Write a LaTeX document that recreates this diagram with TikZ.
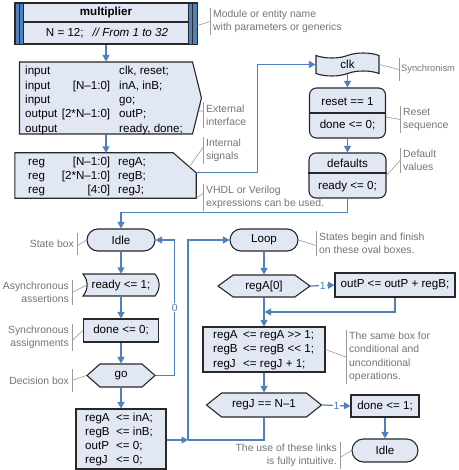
\documentclass[tikz,border=0pt]{standalone}
\usepackage{fontspec}
\setmainfont{Liberation Sans}
\usepackage{tikz}
\usetikzlibrary{arrows.meta,calc,positioning,shapes.symbols}
\definecolor{boxfill}{RGB}{226,231,244}
\definecolor{flowblue}{RGB}{79,129,189}
\definecolor{boxedge}{RGB}{40,40,40}
\definecolor{notegray}{RGB}{115,115,115}
\definecolor{annoline}{RGB}{155,155,155}
\newcommand{\flowfont}{\fontsize{11.6}{14.3}\selectfont}
\newcommand{\annofont}{\fontsize{10.4}{13.4}\selectfont}

\begin{document}
\begin{tikzpicture}[x=1pt,y=-1pt,font=\flowfont,
  box/.style={draw=boxedge,fill=boxfill,line width=1.1pt,inner sep=0pt},
  divider/.style={draw=boxedge,line width=1.1pt},
  bar/.style={draw=boxedge,fill=flowblue,line width=0.8pt},
  flow/.style={flowblue,line width=1.2pt,-{Triangle[width=7pt,length=6.5pt]}},
  link/.style={flowblue,line width=1.2pt},
  decision/.style={box,signal,signal from=nowhere,signal to=east and west},
  state/.style={box,rounded corners=11pt,minimum width=68pt,minimum height=22pt},
  code/.style={inner sep=0pt,align=left,anchor=west},
  note/.style={notegray,font=\annofont,inner xsep=3pt,inner ysep=2pt,minimum height=22pt},
  bracket/.style={annoline,line width=0.6pt},
  branch/.style={fill=white,inner sep=1pt,font=\annofont}]
  \useasboundingbox (0,0) rectangle (458,470);

  \node[box,minimum width=182pt,minimum height=41pt] (mult) at (106,23.5) {};
  \draw[bar] (15,3) rectangle (19.2,44);
  \draw[bar] (19.2,3) rectangle (23.4,44);
  \draw[bar] (188.6,3) rectangle (192.8,44);
  \draw[bar] (192.8,3) rectangle (197,44);
  \draw[divider] (23.4,22) -- (188.6,22);
  \node[font=\flowfont\bfseries] (multname) at (106,12.5) {multiplier};
  \node (multgen) at (107,33.5) {N = 12;\hspace{9pt}\textit{// From 1 to 32}};

  \node[box,signal,signal from=nowhere,signal to=east,signal pointer angle=152,
        minimum width=182pt,minimum height=72pt] (iface) at (106,98) {};
  \node[code] (ifacecode) at (25,100.5) {%
    \makebox[85pt][l]{input}\hspace{9pt}clk, reset;\\
    \makebox[85pt][l]{input\hfill[N–1:0]}\hspace{9pt}inA, inB;\\
    \makebox[85pt][l]{input}\hspace{9pt}go;\\
    \makebox[85pt][l]{output\hfill[2*N–1:0]}\hspace{9pt}outP;\\
    \makebox[85pt][l]{output}\hspace{9pt}ready, done;};

  \node[minimum width=181pt,minimum height=45pt,inner sep=0pt] (regs) at (105.5,175.5) {};
  \coordinate (regcutA) at ([xshift=-23pt]regs.north east);
  \coordinate (regcutB) at ([yshift=-20pt]regs.north east);
  \draw[box] (regs.north west) -- (regcutA) -- (regcutB) -- (regs.south east) -- (regs.south west) -- cycle;
  \node[code] (regscode) at (28,176.5) {%
    \makebox[82pt][l]{reg\hfill[N–1:0]}\hspace{8pt}regA;\\
    \makebox[82pt][l]{reg\hfill[2*N–1:0]}\hspace{8pt}regB;\\
    \makebox[82pt][l]{reg\hfill[4:0]}\hspace{8pt}regJ;};

  \node[box,tape,minimum width=63pt,minimum height=23pt] (clk) at (347.5,64.5) {clk};

  \node[box,rounded corners=7pt,minimum width=76pt,minimum height=50pt] (reset) at (347.5,113) {};
  \draw[divider] (reset.west) -- (reset.east);
  \node (resetif) at (347.5,102) {reset == 1};
  \node (resetdo) at (347.5,125) {done <= 0;};

  \node[box,rounded corners=7pt,minimum width=77pt,minimum height=45pt] (defaults) at (347.5,175.5) {};
  \draw[divider] (defaults.west |- 0,173) -- (defaults.east |- 0,173);
  \node (defname) at (347.5,163) {defaults};
  \node (defdo) at (347.5,186.5) {ready <= 0;};

  \node[state] (idle) at (121,240) {Idle};
  \node[state] (loop) at (264,240) {Loop};

  \draw[box] (83,274) -- (155,274) .. controls (160.5,281) and (160.5,289) .. (155,296)
    -- (83,296) .. controls (88.5,289) and (88.5,281) .. (83,274) -- cycle;
  \node[inner sep=0pt,minimum width=68pt,minimum height=22pt] (ready) at (121,285) {ready <= 1;};
  \node[box,minimum width=75pt,minimum height=23pt] (done0) at (121,330.5) {done <= 0;};
  \node[decision,signal pointer angle=83,minimum width=68pt,minimum height=23pt] (go) at (121,375.5) {go};
  \node[box,minimum width=90pt,minimum height=60pt] (init) at (121,439) {};
  \node[code] (initcode) at (85,439.5) {%
    \makebox[31pt][l]{regA}<= inA;\\
    \makebox[31pt][l]{regB}<= inB;\\
    \makebox[31pt][l]{outP}<= 0;\\
    \makebox[31pt][l]{regJ}<= 0;};

  \node[decision,signal pointer angle=72,minimum width=92pt,minimum height=22pt] (rega0) at (264,286) {regA[0]};
  \node[box,minimum width=120pt,minimum height=24pt] (outp) at (395,285) {outP <= outP + regB;};
  \node[box,minimum width=122pt,minimum height=45pt] (shift) at (264,349.5) {};
  \node[code] (shiftcode) at (213,350) {%
    \makebox[30pt][l]{regA}<= regA >{}> 1;\\
    \makebox[30pt][l]{regB}<= regB <{}< 1;\\
    \makebox[30pt][l]{regJ}<= regJ + 1;};
  \node[decision,signal pointer angle=77,minimum width=115pt,minimum height=24pt] (regj) at (264,405) {regJ == N–1};
  \node[box,minimum width=68pt,minimum height=22pt] (done1) at (385,406) {done <= 1;};
  \node[state,minimum width=66pt,minimum height=23pt,rounded corners=11.5pt] (idle2) at (385,450.5) {Idle};

  \draw[flow] (mult.south) -- (iface.north);
  \draw[flow] (iface.south) -- (iface.south |- regs.north);
  \draw[flow] ([yshift=3pt]regs.east) -- ++(61,0) |- (clk.west);
  \draw[flow] (clk.south) -- (reset.north);
  \draw[flow] (reset.south) -- (defaults.north);
  \draw[flow] (defaults.south) -- ++(0,14) -| (idle.north);
  \draw[flow] (idle.south) -- (ready.north);
  \draw[flow] (ready.south) -- (done0.north);
  \draw[flow] (done0.south) -- (go.north);
  \draw[flow] (go.south) -- (init.north);
  \draw[flow] (go.east) -- ++(19,0) |- node[pos=0.25,branch] {0} (idle.east);
  \coordinate (join) at (188,440);
  \draw[flow] (init.east |- join) -- (join);
  \draw[link] (regj.south) |- (join);
  \draw[flow] (join) |- (loop.west);
  \draw[flow] (loop.south) -- (rega0.north);
  \draw[flow] (rega0.east) -- node[branch] {1} (outp.west);
  \draw[flow,shorten >=0.6pt] (outp.south) |- (rega0.south |- 0,312);
  \draw[flow] (rega0.south) -- (shift.north);
  \draw[flow] (shift.south) -- (regj.north);
  \draw[flow] (regj.east) -- node[branch] {1} (done1.west);
  \draw[flow] (done1.south) -- (idle2.north);

  \node[note,anchor=west,align=left] (nmod) at (210,21.5) {Module or entity name\\with parameters or generics};
  \node[note,anchor=west,align=left] (niface) at (203,115) {External\\interface};
  \node[note,anchor=west,align=left] (nsig) at (203,150.5) {Internal\\signals};
  \node[note,anchor=west,align=left] (nexpr) at (203,197.5) {VHDL or Verilog\\expressions can be used.};
  \node[note,anchor=west,align=left,font=\fontsize{9.3}{12}\selectfont,inner xsep=2pt] (nsync) at (399,69.5) {Synchronism};
  \node[note,anchor=west,align=left] (nreset) at (400,119.5) {Reset\\sequence};
  \node[note,anchor=west,align=left] (ndef) at (400,160.5) {Default\\values};
  \node[note,anchor=west,align=left] (nstate) at (316,243.5) {States begin and finish\\on these oval boxes.};
  \node[note,anchor=west,align=left] (nsame) at (346,357) {The same box for\\conditional and\\unconditional\\operations.};
  \node[note,anchor=east,align=right] (nstbox) at (77,244) {State box};
  \node[note,anchor=east,align=right] (nasync) at (72,292.5) {Asynchronous\\assertions};
  \node[note,anchor=east,align=right] (nsyncas) at (72,337.5) {Synchronous\\assignments};
  \node[note,anchor=east,align=right] (ndec) at (72,380.5) {Decision box};
  \node[note,anchor=east,align=right] (nlinks) at (340,455.5) {The use of these links\\is fully intuitive.};

  \foreach \n in {nmod,niface,nsig,nexpr,nsync,nreset,ndef,nstate,nsame}
    \draw[bracket] (\n.north west) -- (\n.south west);
  \foreach \n in {nstbox,nasync,nsyncas,ndec,nlinks}
    \draw[bracket] (\n.north east) -- (\n.south east);

  \draw[bracket] ([yshift=-2pt]mult.east) -- (nmod.west);
  \draw[bracket] (iface.-8) -- ([yshift=4pt]niface.west);
  \draw[bracket] ($(regcutA)!0.7!(regcutB)$) -- ([yshift=3pt]nsig.west);
  \draw[bracket] (regs.south east) -- ([yshift=4pt]nexpr.west);
  \draw[bracket] (clk.east) -- (nsync.west);
  \draw[bracket] ([yshift=-4pt]reset.east) -- (nreset.west);
  \draw[bracket] (defaults.east) -- (ndef.west);
  \draw[bracket] (loop.east) -- ([yshift=-2pt]nstate.west);
  \draw[bracket] (shift.east) -- (nsame.west);
  \draw[bracket] ([yshift=-2pt]nstbox.east) -- (idle.west);
  \draw[bracket] (nasync.east) -- (ready.west);
  \draw[bracket] ([yshift=-3pt]nsyncas.east) -- (done0.west);
  \draw[bracket] (ndec.east) -- (go.west);
  \draw[bracket] ([yshift=-2pt]nlinks.east) -- (idle2.west);
\end{tikzpicture}
\end{document}
